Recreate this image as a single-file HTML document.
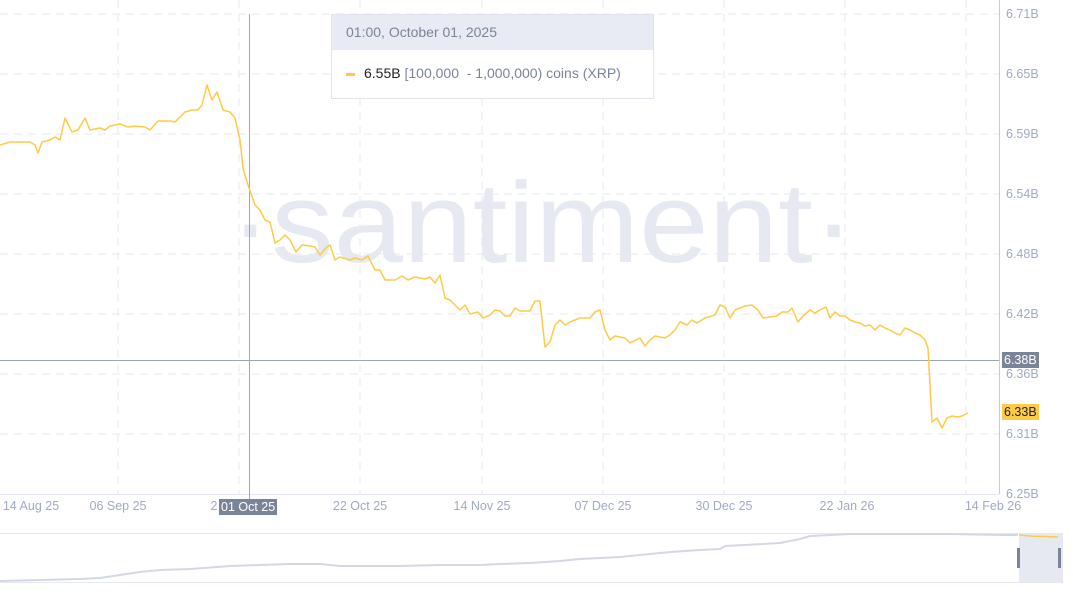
<!DOCTYPE html>
<html><head><meta charset="utf-8"><style>
body{margin:0;width:1073px;height:595px;background:#fff;overflow:hidden;font-family:"Liberation Sans",sans-serif;position:relative}
.yl{position:absolute;left:1006px;font-size:12.5px;color:#9faac4}
.xl{position:absolute;top:499px;font-size:12.5px;color:#9faac4;transform:translateX(-50%);white-space:nowrap}
</style></head><body>
<svg width="1073" height="595" style="position:absolute;left:0;top:0">
<g stroke="#e5e8f0" stroke-dasharray="8 6" stroke-width="1">
<line x1="0" y1="14" x2="999" y2="14"/><line x1="0" y1="74" x2="999" y2="74"/><line x1="0" y1="134" x2="999" y2="134"/><line x1="0" y1="194" x2="999" y2="194"/><line x1="0" y1="254" x2="999" y2="254"/><line x1="0" y1="314" x2="999" y2="314"/><line x1="0" y1="374" x2="999" y2="374"/><line x1="0" y1="434" x2="999" y2="434"/>
<line x1="118" y1="0" x2="118" y2="494"/><line x1="239" y1="0" x2="239" y2="494"/><line x1="360" y1="0" x2="360" y2="494"/><line x1="482" y1="0" x2="482" y2="494"/><line x1="603" y1="0" x2="603" y2="494"/><line x1="724" y1="0" x2="724" y2="494"/><line x1="845" y1="0" x2="845" y2="494"/><line x1="966" y1="0" x2="966" y2="494"/>
</g>
<line x1="0" y1="494.5" x2="999" y2="494.5" stroke="#e5e8f0"/>
<text x="542" y="262" font-family="Liberation Sans,sans-serif" font-size="114" fill="#e6e9f1" text-anchor="middle" textLength="625" lengthAdjust="spacingAndGlyphs">·santiment·</text>
<line x1="999.5" y1="0" x2="999.5" y2="494" stroke="#ffcb47"/>
<line x1="0" y1="360.5" x2="999" y2="360.5" stroke="#9ba7bb"/>
<line x1="249.5" y1="14" x2="249.5" y2="500" stroke="#9ba7bb"/>
<polyline fill="none" stroke="#ffcb47" stroke-width="1.5" stroke-linejoin="round" points="0,145 10,142 30,142 35,145 38,153 42,142 50,140 55,137 60,140 65,118 72,132 78,130 85,118 90,130 100,128 105,130 110,126 120,124 128,127 135,126 145,127 150,130 158,121 170,121 175,122 185,112 192,110 198,110 202,105 207,85 212,100 217,92 223,110 230,112 235,118 240,140 243,168 248,185 255,205 260,210 265,220 270,222 275,243 280,240 285,235 290,240 296,252 302,245 310,246 315,247 320,255 326,248 330,245 335,260 340,257 350,260 355,258 362,260 368,256 375,270 380,270 385,280 395,280 402,276 408,280 415,277 425,279 430,277 435,283 440,275 445,298 450,300 455,305 460,310 465,305 470,314 478,312 483,318 490,315 495,310 500,311 505,316 510,316 515,308 520,311 530,311 535,301 540,301 545,347 550,342 555,325 560,320 565,325 570,322 580,318 590,318 595,312 600,310 605,330 610,340 615,336 625,338 630,343 640,338 645,346 650,340 655,336 665,338 670,335 675,330 680,322 687,325 692,320 697,323 705,318 715,315 720,305 725,307 730,318 735,310 740,308 745,306 752,305 758,310 763,318 770,317 777,316 782,312 788,312 792,308 798,322 803,316 810,310 815,313 820,310 826,307 830,318 835,312 840,316 845,316 850,320 855,322 860,323 865,326 870,325 875,330 880,325 885,328 890,330 895,333 900,335 905,328 910,330 915,333 920,335 925,340 928,348 932,422 937,418 942,428 947,418 952,416 958,417 962,416 968,413"/>
<line x1="0" y1="533.5" x2="1062" y2="533.5" stroke="#e5e8f0"/>
<line x1="0" y1="582.5" x2="1062" y2="582.5" stroke="#e5e8f0"/>
<line x1="1062.5" y1="533" x2="1062.5" y2="583" stroke="#e5e8f0"/>
<rect x="1019" y="534" width="43" height="48" fill="#e6e9f2"/>
<rect x="1017" y="548" width="3" height="20" fill="#7a8499"/><rect x="1058" y="548" width="3" height="20" fill="#7a8499"/>
<polyline fill="none" stroke="#d4d8e6" stroke-width="2" points="0,581 40,580 80,579 100,578 120,575 140,572 160,570 190,569 230,566 260,565 290,564 320,564 340,566 360,566 400,566 440,565 480,565 500,564 530,563 560,561 580,559 600,558 620,557 650,554 670,552 700,550 720,549 725,546 745,545 780,543 800,539 810,536 850,534 900,534 950,534 1000,535 1018,535"/>
<polyline fill="none" stroke="#ffcb47" stroke-width="1.5" points="1019,535 1030,536 1058,537"/>
</svg>
<div class="yl" style="top:7px">6.71B</div>
<div class="yl" style="top:67px">6.65B</div>
<div class="yl" style="top:127px">6.59B</div>
<div class="yl" style="top:187px">6.54B</div>
<div class="yl" style="top:247px">6.48B</div>
<div class="yl" style="top:307px">6.42B</div>
<div class="yl" style="top:367px">6.36B</div>
<div class="yl" style="top:427px">6.31B</div>
<div class="yl" style="top:487px">6.25B</div>
<div style="position:absolute;left:1002px;top:352px;background:#7a8499;color:#fff;font-size:12.5px;padding:1px 2px">6.38B</div>
<div style="position:absolute;left:1002px;top:404px;background:#ffcb47;color:#222;font-size:12.5px;padding:1px 2px">6.33B</div>
<div class="xl" style="left:31px">14 Aug 25</div>
<div class="xl" style="left:118px">06 Sep 25</div>
<div class="xl" style="left:360px">22 Oct 25</div>
<div class="xl" style="left:482px">14 Nov 25</div>
<div class="xl" style="left:603px">07 Dec 25</div>
<div class="xl" style="left:724px">30 Dec 25</div>
<div class="xl" style="left:847px">22 Jan 26</div>
<div class="xl" style="left:993px">14 Feb 26</div>
<div class="xl" style="left:214px">2</div>
<div style="position:absolute;left:219px;top:499px;background:#7a8499;color:#fff;font-size:12.5px;padding:1px 2px;line-height:14px">01 Oct 25</div>
<div style="position:absolute;left:331px;top:14px;width:321px;height:83px;border:1px solid #dfe3ec;background:#fff">
<div style="height:35px;background:#e8ebf4;color:#7a849a;font-size:14px;line-height:35px;padding-left:14px">01:00, October 01, 2025</div>
<div style="font-size:14px;line-height:46px;padding-left:14px;color:#7a849a"><span style="display:inline-block;width:9px;height:3px;background:#ffcb47;vertical-align:middle;margin-right:9px"></span><span style="color:#222">6.55B</span> [100,000 &nbsp;- 1,000,000) coins (XRP)</div>
</div>
</body></html>
